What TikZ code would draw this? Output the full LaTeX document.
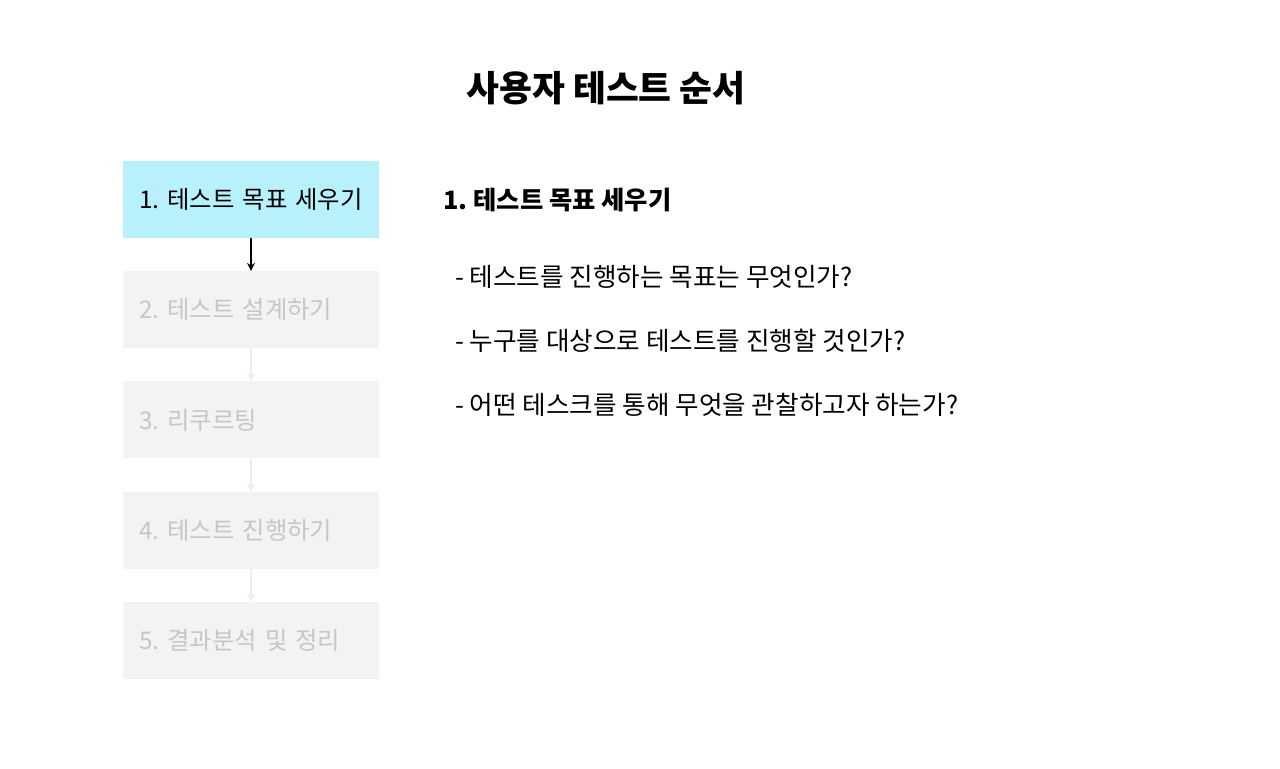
\documentclass[tikz,border=0pt]{standalone}
\usepackage{fontspec}
\setmainfont{Noto Sans CJK KR}
\frenchspacing
\usetikzlibrary{positioning,arrows.meta}
\definecolor{stepcyan}{HTML}{B8F1FB}
\definecolor{stepgrey}{HTML}{F3F3F3}
\definecolor{stepgreytext}{HTML}{C6C6C6}
\definecolor{steparrowgrey}{HTML}{EDEDED}
\tikzset{
	stepbox/.style={rectangle, fill=stepgrey, text=stepgreytext, minimum width=192pt, minimum height=57.75pt,
		text width=168pt, inner xsep=12pt, inner ysep=0pt, align=left, font=\fontsize{18.25pt}{21pt}\selectfont},
	stepnow/.style={stepbox, fill=stepcyan, text=black},
	steparrow/.style={-{Stealth[length=6pt,width=6pt]}, line width=0.9pt, draw=steparrowgrey},
	question/.style={anchor=west, inner sep=0pt, font=\fontsize{19.2pt}{22pt}\selectfont}
}

\begin{document}
\begin{tikzpicture}[x=0.75pt, y=-0.75pt]
			%%%%% START %%%%%
			
			\useasboundingbox (0, 0) rectangle (1280, 768);
			
			\node[font=\fontsize{26.8pt}{30pt}\selectfont\bfseries] (title) at (606, 88) {사용자 테스트 순서};
			
			\node[stepnow] (goal) at (251, 199.5) {1. 테스트 목표 세우기};
			\node[stepbox, below=24.5pt of goal] (design) {2. 테스트 설계하기};
			\node[stepbox, below=24.5pt of design] (recruit) {3. 리쿠르팅};
			\node[stepbox, below=24.5pt of recruit] (run) {4. 테스트 진행하기};
			\node[stepbox, below=24.5pt of run] (report) {5. 결과분석 및 정리};
			
			\draw[steparrow, draw=black] (goal) -- (design);
			\draw[steparrow] (design) -- (recruit);
			\draw[steparrow] (recruit) -- (run);
			\draw[steparrow] (run) -- (report);
			
			\node[question, font=\fontsize{19pt}{22pt}\selectfont\bfseries] (head) at (443, 200) {1. 테스트 목표 세우기};
			\node[question] (qone) at (455, 277) {- 테스트를 진행하는 목표는 무엇인가?};
			\node[question] (qtwo) at (455, 341) {- 누구를 대상으로 테스트를 진행할 것인가?};
			\node[question] (qthree) at (455, 405) {- 어떤 테스크를 통해 무엇을 관찰하고자 하는가?};
			
			%%%%% END %%%%%
		\end{tikzpicture}
\end{document}
